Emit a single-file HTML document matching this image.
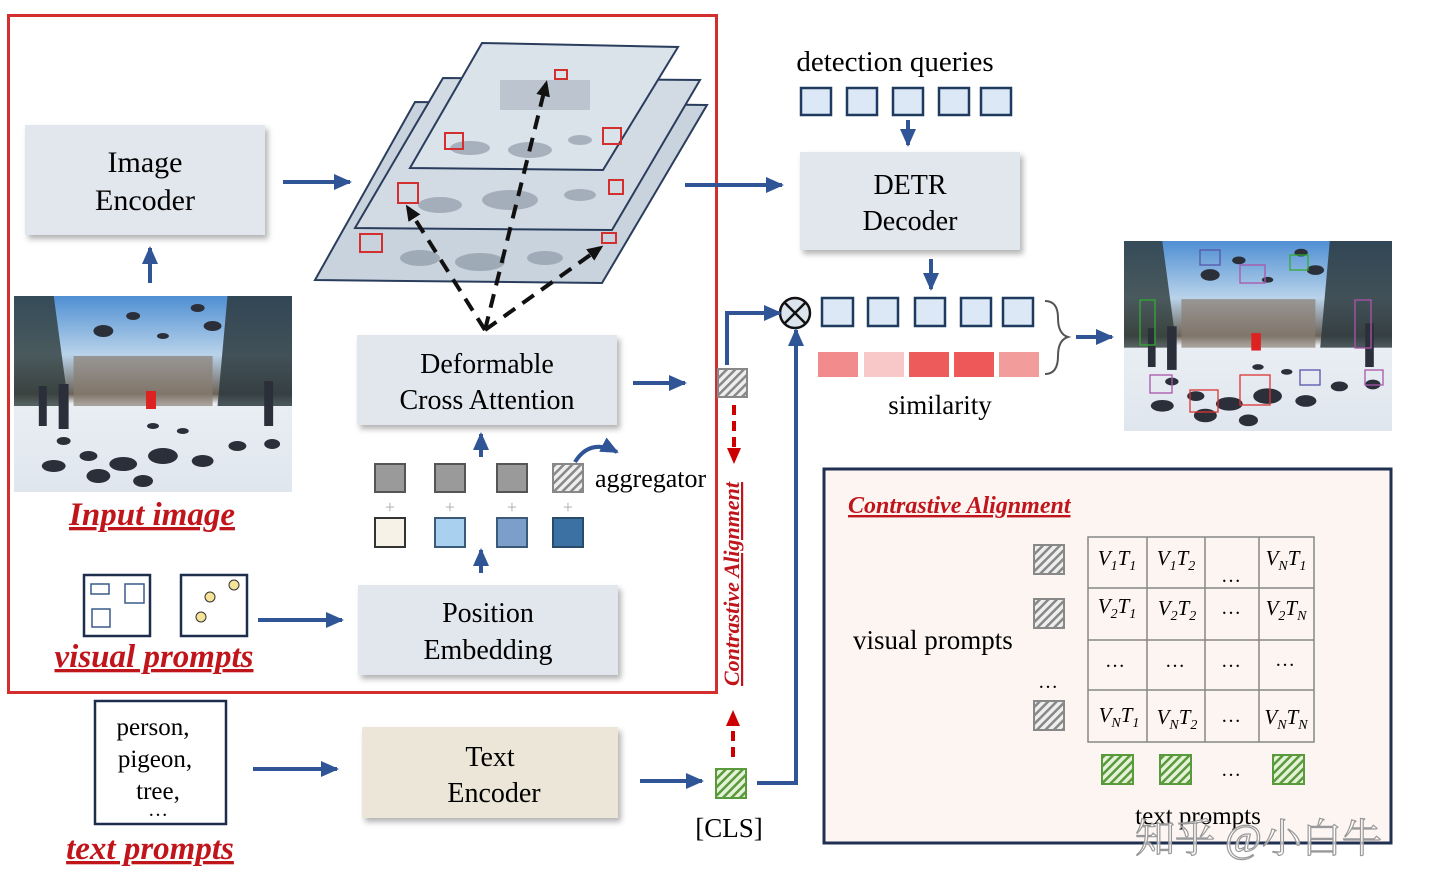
<!DOCTYPE html>
<html><head><meta charset="utf-8"><style>
html,body{margin:0;padding:0;background:#fff;}
svg{display:block;}
text{font-family:"Liberation Serif","Noto Serif CJK SC",serif;}
.red{fill:#c0151b;font-weight:bold;font-style:italic;text-decoration:underline;}
</style></head><body>
<svg width="1440" height="893" viewBox="0 0 1440 893" xmlns="http://www.w3.org/2000/svg">
<defs>
 <pattern id="hg" patternUnits="userSpaceOnUse" width="6" height="6" patternTransform="rotate(45)">
  <rect width="6" height="6" fill="#eee"/><rect width="2.5" height="6" fill="#888"/></pattern>
 <pattern id="hgr" patternUnits="userSpaceOnUse" width="6" height="6" patternTransform="rotate(45)">
  <rect width="6" height="6" fill="#e4f2d8"/><rect width="2.5" height="6" fill="#5a9a3c"/></pattern>
 <marker id="ab" markerWidth="20" markerHeight="18" refX="16" refY="8" orient="auto" markerUnits="userSpaceOnUse">
  <path d="M0,0 L18,8 L0,16 z" fill="#2f5597"/></marker>
 <marker id="ak" markerWidth="16" markerHeight="16" refX="12" refY="8" orient="auto" markerUnits="userSpaceOnUse">
  <path d="M0,1 L16,8 L0,15 z" fill="#111"/></marker>
 <marker id="ar" markerWidth="16" markerHeight="16" refX="12" refY="8" orient="auto" markerUnits="userSpaceOnUse">
  <path d="M0,1 L16,8 L0,15 z" fill="#c00"/></marker>
 <linearGradient id="sky" x1="0" y1="0" x2="0" y2="1">
  <stop offset="0" stop-color="#4f8fd3"/><stop offset="0.3" stop-color="#b9d3ea"/>
  <stop offset="0.5" stop-color="#6b6358"/><stop offset="0.55" stop-color="#e9eef3"/><stop offset="1" stop-color="#dfe6ee"/></linearGradient>
 <filter id="sh" x="-10%" y="-10%" width="125%" height="130%"><feDropShadow dx="3" dy="4" stdDeviation="3" flood-color="#000" flood-opacity="0.3"/></filter>
 <symbol id="photo" viewBox="0 0 280 196" preserveAspectRatio="none">
  <rect width="280" height="196" fill="url(#sky)"/>
  <path d="M0,0 L40,0 L55,110 L0,110z" fill="#2e3b3a" opacity="0.8"/>
  <path d="M215,0 L280,0 L280,110 L205,110z" fill="#2d3a3e" opacity="0.85"/>
  <rect x="60" y="60" width="140" height="50" fill="#8a7e72" opacity="0.7"/>
  <rect x="133" y="95" width="10" height="18" fill="#d22"/>
  <g fill="#2b2f3a">
   <ellipse cx="90" cy="35" rx="10" ry="6"/><ellipse cx="120" cy="20" rx="7" ry="4"/><ellipse cx="200" cy="30" rx="9" ry="5"/>
   <ellipse cx="150" cy="40" rx="6" ry="3"/><ellipse cx="185" cy="12" rx="7" ry="4"/>
   <rect x="25" y="90" width="8" height="40"/><rect x="45" y="88" width="10" height="45"/><rect x="252" y="85" width="9" height="45"/>
   <ellipse cx="40" cy="170" rx="12" ry="6"/><ellipse cx="75" cy="160" rx="9" ry="5"/><ellipse cx="110" cy="168" rx="14" ry="7"/>
   <ellipse cx="150" cy="160" rx="15" ry="8"/><ellipse cx="190" cy="165" rx="11" ry="6"/><ellipse cx="225" cy="150" rx="9" ry="5"/>
   <ellipse cx="260" cy="148" rx="8" ry="5"/><ellipse cx="140" cy="130" rx="6" ry="3"/><ellipse cx="170" cy="135" rx="6" ry="3"/>
   <ellipse cx="85" cy="180" rx="12" ry="7"/><ellipse cx="130" cy="185" rx="10" ry="6"/><ellipse cx="50" cy="145" rx="7" ry="4"/>
  </g>
 </symbol>
</defs>

<rect x="8.5" y="15.5" width="708" height="677" fill="none" stroke="#d32f2f" stroke-width="3"/>

<rect x="25" y="125" width="240" height="110" fill="#e2e6ed" filter="url(#sh)"/>
<text x="145" y="172" font-size="30" text-anchor="middle">Image</text>
<text x="145" y="210" font-size="30" text-anchor="middle">Encoder</text>
<line x1="150" y1="283" x2="150" y2="248" stroke="#2f5597" stroke-width="4" marker-end="url(#ab)"/>

<use href="#photo" x="14" y="296" width="278" height="196"/>
<text x="152" y="525" font-size="33" text-anchor="middle" class="red">Input image</text>

<rect x="84" y="575" width="66" height="61" fill="#fff" stroke="#1f2d4d" stroke-width="2.5"/>
<rect x="91" y="584" width="18" height="10" fill="none" stroke="#3a5a8a" stroke-width="1.5"/>
<rect x="125" y="584" width="19" height="19" fill="none" stroke="#3a5a8a" stroke-width="1.5"/>
<rect x="92" y="609" width="18" height="18" fill="none" stroke="#3a5a8a" stroke-width="1.5"/>
<rect x="181" y="575" width="66" height="61" fill="#fff" stroke="#1f2d4d" stroke-width="2.5"/>
<circle cx="234" cy="585" r="5" fill="#f5e39a" stroke="#333"/>
<circle cx="210" cy="597" r="5" fill="#f5e39a" stroke="#333"/>
<circle cx="201" cy="617" r="5" fill="#f5e39a" stroke="#333"/>
<text x="154" y="667" font-size="33" text-anchor="middle" class="red">visual prompts</text>
<line x1="258" y1="620" x2="342" y2="620" stroke="#2f5597" stroke-width="4" marker-end="url(#ab)"/>

<rect x="358" y="585" width="260" height="90" fill="#e2e6ed" filter="url(#sh)"/>
<text x="488" y="622" font-size="28" text-anchor="middle">Position</text>
<text x="488" y="659" font-size="28" text-anchor="middle">Embedding</text>
<line x1="481" y1="573" x2="481" y2="550" stroke="#2f5597" stroke-width="4" marker-end="url(#ab)"/>

<g stroke="#555" stroke-width="2">
 <rect x="375" y="464" width="30" height="28" fill="#9a9a9a"/>
 <rect x="435" y="464" width="30" height="28" fill="#9a9a9a"/>
 <rect x="497" y="464" width="30" height="28" fill="#9a9a9a"/>
 <rect x="553" y="464" width="30" height="28" fill="url(#hg)" stroke="#888"/>
 <rect x="375" y="518" width="30" height="29" fill="#f6f2e8" stroke="#333"/>
 <rect x="435" y="518" width="30" height="29" fill="#a9d1ef" stroke="#3a5a7a"/>
 <rect x="497" y="518" width="30" height="29" fill="#7c9ecb" stroke="#3a5a7a"/>
 <rect x="553" y="518" width="30" height="29" fill="#3b72a3" stroke="#2a4a6a"/>
</g>
<g font-size="18" fill="#aaa" text-anchor="middle">
 <text x="390" y="513">+</text><text x="450" y="513">+</text><text x="512" y="513">+</text><text x="568" y="513">+</text></g>
<text x="595" y="487" font-size="26">aggregator</text>
<path d="M575,462 Q590,438 617,452" fill="none" stroke="#2f5597" stroke-width="4" marker-end="url(#ab)"/>
<line x1="481" y1="457" x2="481" y2="434" stroke="#2f5597" stroke-width="4" marker-end="url(#ab)"/>

<rect x="357" y="335" width="260" height="90" fill="#e2e6ed" filter="url(#sh)"/>
<text x="487" y="373" font-size="28" text-anchor="middle">Deformable</text>
<text x="487" y="409" font-size="28" text-anchor="middle">Cross Attention</text>
<line x1="633" y1="383" x2="685" y2="383" stroke="#2f5597" stroke-width="4" marker-end="url(#ab)"/>

<line x1="283" y1="182" x2="350" y2="182" stroke="#2f5597" stroke-width="4" marker-end="url(#ab)"/>
<g stroke="#2b3d5c" stroke-width="2">
 <polygon points="315,280 415,102 707,105 602,283" fill="#c8d3dd"/>
 <polygon points="355,228 443,78 700,80 612,230" fill="#d2dbe4"/>
 <polygon points="410,168 482,43 678,47 603,170" fill="#dae2ea"/>
</g>
<g fill="#7f8a99" opacity="0.55">
 <ellipse cx="420" cy="258" rx="20" ry="8"/><ellipse cx="480" cy="262" rx="25" ry="9"/><ellipse cx="545" cy="258" rx="18" ry="7"/>
 <ellipse cx="440" cy="205" rx="22" ry="8"/><ellipse cx="510" cy="200" rx="28" ry="10"/><ellipse cx="580" cy="195" rx="16" ry="6"/>
 <ellipse cx="470" cy="148" rx="20" ry="7"/><ellipse cx="530" cy="150" rx="22" ry="8"/><ellipse cx="580" cy="140" rx="12" ry="5"/>
 <rect x="500" y="80" width="90" height="30" opacity="0.6"/>
</g>
<g fill="none" stroke="#d32f2f" stroke-width="2">
 <rect x="360" y="234" width="22" height="18"/><rect x="398" y="183" width="20" height="20"/><rect x="445" y="133" width="18" height="16"/>
 <rect x="603" y="128" width="18" height="16"/><rect x="609" y="180" width="14" height="14"/><rect x="602" y="233" width="14" height="10"/>
 <rect x="555" y="70" width="12" height="9"/>
</g>
<g stroke="#111" stroke-width="4" stroke-dasharray="14,9" fill="none">
 <line x1="485" y1="330" x2="546" y2="84" marker-end="url(#ak)"/>
 <line x1="485" y1="330" x2="408" y2="208" marker-end="url(#ak)"/>
 <line x1="485" y1="330" x2="600" y2="248" marker-end="url(#ak)"/>
</g>
<line x1="685" y1="185" x2="782" y2="185" stroke="#2f5597" stroke-width="4" marker-end="url(#ab)"/>

<text x="895" y="71" font-size="29" text-anchor="middle">detection queries</text>
<g fill="#dce8f5" stroke="#1f3a5f" stroke-width="2.5">
 <rect x="801" y="88" width="30" height="27"/><rect x="847" y="88" width="30" height="27"/><rect x="893" y="88" width="30" height="27"/>
 <rect x="939" y="88" width="30" height="27"/><rect x="981" y="88" width="30" height="27"/></g>
<line x1="908" y1="120" x2="908" y2="145" stroke="#2f5597" stroke-width="4" marker-end="url(#ab)"/>
<rect x="800" y="152" width="220" height="98" fill="#e2e6ed" filter="url(#sh)"/>
<text x="910" y="194" font-size="28" text-anchor="middle">DETR</text>
<text x="910" y="230" font-size="28" text-anchor="middle">Decoder</text>
<line x1="931" y1="259" x2="931" y2="289" stroke="#2f5597" stroke-width="4" marker-end="url(#ab)"/>

<circle cx="795" cy="313" r="15" fill="#dbe3ec" stroke="#111" stroke-width="2.5"/>
<line x1="785" y1="303" x2="805" y2="323" stroke="#111" stroke-width="2.5"/><line x1="805" y1="303" x2="785" y2="323" stroke="#111" stroke-width="2.5"/>
<g fill="#dce8f5" stroke="#1f3a5f" stroke-width="2.5">
 <rect x="822" y="298" width="31" height="28"/><rect x="868" y="298" width="30" height="28"/><rect x="915" y="298" width="30" height="28"/>
 <rect x="961" y="298" width="30" height="28"/><rect x="1003" y="298" width="30" height="28"/></g>
<rect x="818" y="352" width="40" height="25" fill="#f28c8c"/><rect x="864" y="352" width="40" height="25" fill="#f8c7c7"/>
<rect x="909" y="352" width="40" height="25" fill="#ee5b5b"/><rect x="954" y="352" width="40" height="25" fill="#ee5858"/>
<rect x="999" y="352" width="40" height="25" fill="#f39c9c"/>
<text x="940" y="414" font-size="27" text-anchor="middle">similarity</text>
<path d="M1045,301 Q1058,301 1058,318 Q1058,334 1068,337 Q1058,340 1058,356 Q1058,374 1045,374" fill="none" stroke="#555" stroke-width="2"/>
<line x1="1076" y1="337" x2="1112" y2="337" stroke="#2f5597" stroke-width="4" marker-end="url(#ab)"/>
<use href="#photo" x="1124" y="241" width="268" height="190"/>
<g fill="none" stroke-width="1.3">
 <rect x="1200" y="250" width="20" height="15" stroke="#55a"/><rect x="1240" y="265" width="25" height="18" stroke="#a5a"/>
 <rect x="1290" y="255" width="18" height="15" stroke="#3a3"/><rect x="1150" y="375" width="22" height="18" stroke="#a5a"/>
 <rect x="1190" y="390" width="28" height="22" stroke="#d33"/><rect x="1240" y="375" width="30" height="30" stroke="#d33"/>
 <rect x="1300" y="370" width="20" height="15" stroke="#55a"/><rect x="1365" y="370" width="18" height="15" stroke="#a5a"/>
 <rect x="1140" y="300" width="15" height="45" stroke="#3a3"/><rect x="1355" y="300" width="16" height="48" stroke="#a5a"/>
</g>

<rect x="718" y="369" width="29" height="28" fill="url(#hg)" stroke="#888" stroke-width="2"/>
<path d="M727,365 L727,313 L780,313" fill="none" stroke="#2f5597" stroke-width="4" marker-end="url(#ab)"/>
<line x1="734" y1="405" x2="734" y2="460" stroke="#c00" stroke-width="4" stroke-dasharray="10,6" marker-end="url(#ar)"/>
<text transform="translate(739,686) rotate(-90)" font-size="22" class="red">Contrastive Alignment</text>
<line x1="733" y1="757" x2="733" y2="714" stroke="#c00" stroke-width="4" stroke-dasharray="10,6" marker-end="url(#ar)"/>
<rect x="716" y="769" width="30" height="29" fill="url(#hgr)" stroke="#5a9a3c" stroke-width="2"/>
<text x="729" y="837" font-size="27" text-anchor="middle">[CLS]</text>
<path d="M757,783 L796,783 L796,330" fill="none" stroke="#2f5597" stroke-width="4" marker-end="url(#ab)"/>

<rect x="95" y="701" width="131" height="123" fill="#fff" stroke="#1f2d4d" stroke-width="2.5"/>
<text x="153" y="735" font-size="25" text-anchor="middle">person,</text>
<text x="155" y="767" font-size="25" text-anchor="middle">pigeon,</text>
<text x="158" y="799" font-size="25" text-anchor="middle">tree,</text>
<text x="158" y="816" font-size="20" text-anchor="middle">…</text>
<text x="150" y="859" font-size="33" text-anchor="middle" class="red">text prompts</text>
<line x1="253" y1="769" x2="337" y2="769" stroke="#2f5597" stroke-width="4" marker-end="url(#ab)"/>
<rect x="362" y="727" width="256" height="91" fill="#ebe6d8" filter="url(#sh)"/>
<text x="490" y="766" font-size="28" text-anchor="middle">Text</text>
<text x="494" y="802" font-size="28" text-anchor="middle">Encoder</text>
<line x1="640" y1="781" x2="702" y2="781" stroke="#2f5597" stroke-width="4" marker-end="url(#ab)"/>

<rect x="824" y="469" width="567" height="374" fill="#fdf5f2" stroke="#1f3050" stroke-width="3"/>
<text x="848" y="513" font-size="24" class="red">Contrastive Alignment</text>
<text x="853" y="649" font-size="27">visual prompts</text>
<g stroke="#888" stroke-width="1.5" fill="none">
 <rect x="1088" y="537" width="226" height="205"/>
 <line x1="1147" y1="537" x2="1147" y2="742"/><line x1="1205" y1="537" x2="1205" y2="742"/><line x1="1259" y1="537" x2="1259" y2="742"/>
 <line x1="1088" y1="588" x2="1314" y2="588"/><line x1="1088" y1="640" x2="1314" y2="640"/><line x1="1088" y1="690" x2="1314" y2="690"/>
</g>
<g font-size="21" font-style="italic" text-anchor="middle">
 <text x="1117" y="565">V<tspan font-size="14" dy="5">1</tspan><tspan dy="-5">T</tspan><tspan font-size="14" dy="5">1</tspan></text>
 <text x="1176" y="565">V<tspan font-size="14" dy="5">1</tspan><tspan dy="-5">T</tspan><tspan font-size="14" dy="5">2</tspan></text>
 <text x="1286" y="565">V<tspan font-size="14" dy="5">N</tspan><tspan dy="-5">T</tspan><tspan font-size="14" dy="5">1</tspan></text>
 <text x="1117" y="613">V<tspan font-size="14" dy="5">2</tspan><tspan dy="-5">T</tspan><tspan font-size="14" dy="5">1</tspan></text>
 <text x="1177" y="615">V<tspan font-size="14" dy="5">2</tspan><tspan dy="-5">T</tspan><tspan font-size="14" dy="5">2</tspan></text>
 <text x="1286" y="615">V<tspan font-size="14" dy="5">2</tspan><tspan dy="-5">T</tspan><tspan font-size="14" dy="5">N</tspan></text>
 <text x="1119" y="722">V<tspan font-size="14" dy="5">N</tspan><tspan dy="-5">T</tspan><tspan font-size="14" dy="5">1</tspan></text>
 <text x="1177" y="724">V<tspan font-size="14" dy="5">N</tspan><tspan dy="-5">T</tspan><tspan font-size="14" dy="5">2</tspan></text>
 <text x="1286" y="724">V<tspan font-size="14" dy="5">N</tspan><tspan dy="-5">T</tspan><tspan font-size="14" dy="5">N</tspan></text>
</g>
<g font-size="20" text-anchor="middle">
 <text x="1231" y="582">…</text><text x="1231" y="614">…</text><text x="1231" y="722">…</text>
 <text x="1115" y="667">…</text><text x="1175" y="667">…</text><text x="1231" y="667">…</text><text x="1285" y="666">…</text>
 <text x="1048" y="688">…</text><text x="1231" y="776">…</text>
</g>
<g fill="url(#hg)" stroke="#888" stroke-width="2">
 <rect x="1034" y="545" width="30" height="29"/><rect x="1034" y="599" width="30" height="29"/><rect x="1034" y="701" width="30" height="29"/></g>
<g fill="url(#hgr)" stroke="#5a9a3c" stroke-width="2">
 <rect x="1102" y="755" width="31" height="29"/><rect x="1160" y="755" width="31" height="29"/><rect x="1273" y="755" width="31" height="29"/></g>
<text x="1198" y="824" font-size="25" text-anchor="middle">text prompts</text>
<text x="1135" y="852" font-size="40" font-family="'Noto Sans CJK SC',sans-serif" fill="#fff" fill-opacity="0.7" stroke="#999" stroke-width="1.2">知乎 @小白牛</text>
</svg>
</body></html>
